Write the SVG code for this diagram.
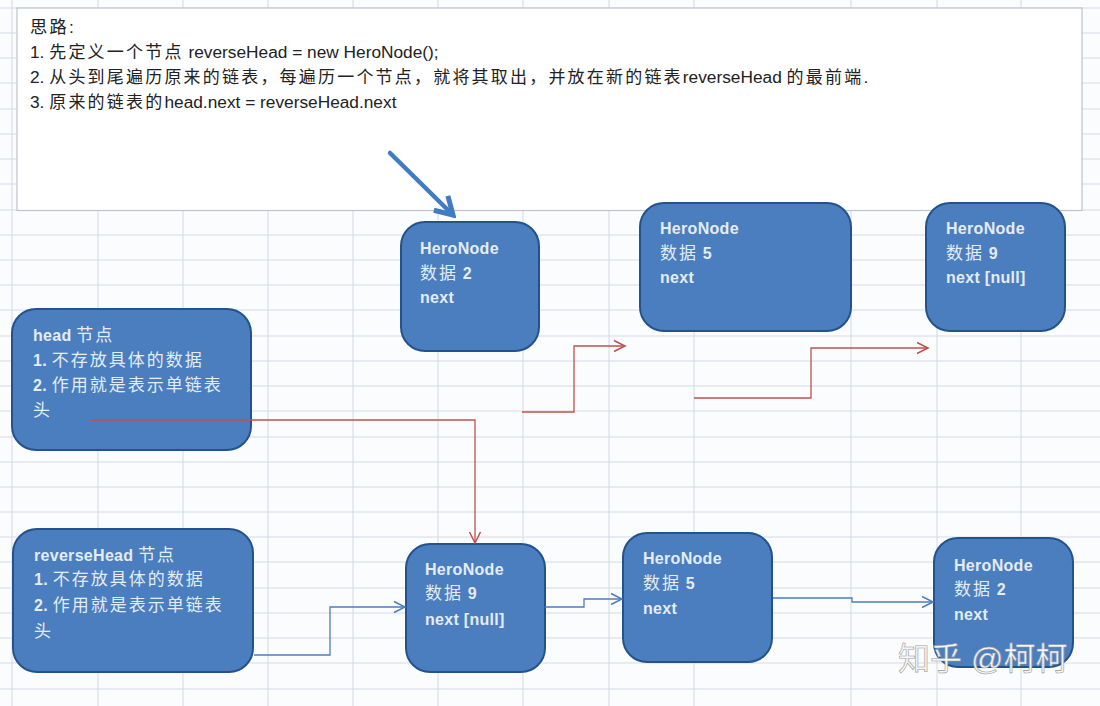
<svg xmlns="http://www.w3.org/2000/svg" width="1100" height="706" viewBox="0 0 1100 706">
<style>
text{font-family:"Liberation Sans","Noto Sans CJK SC",sans-serif}
.grid line{stroke:#d6dce6;stroke-width:1.1}
.node rect{fill:#4a7ebf;stroke:#24528a;stroke-width:2}
.node text{fill:#e4ecf6;font-size:16px;font-weight:bold;letter-spacing:.3px}
.c{font-weight:normal;font-size:17px;letter-spacing:2px}
.note text{fill:#222;font-size:17.300px}
.n{letter-spacing:2.2px;font-size:17px}
.red{fill:none;stroke:#c0504d;stroke-width:1.3}
.blue{fill:none;stroke:#4a7ebf;stroke-width:1.3}
.mark{fill:#f6f6f6;stroke:#9a9a9a;stroke-width:.6;font-size:32px}
</style>
<defs>
<marker id="ar" markerUnits="userSpaceOnUse" markerWidth="14" markerHeight="14" refX="12" refY="7" orient="auto"><path d="M1,1.5 L12,7 L1,12.5" fill="none" stroke="#c0504d" stroke-width="1.5"/></marker>
<marker id="ab" markerUnits="userSpaceOnUse" markerWidth="14" markerHeight="14" refX="12" refY="7" orient="auto"><path d="M1,1.5 L12,7 L1,12.5" fill="none" stroke="#4a7ebf" stroke-width="1.5"/></marker>
<marker id="abig" markerUnits="userSpaceOnUse" markerWidth="28" markerHeight="28" refX="24" refY="14" orient="auto"><path d="M7,4 L24,14 L7,24" fill="none" stroke="#3f7cc4" stroke-width="5"/></marker>
</defs>
<rect width="1100" height="706" fill="#fbfcfe"/>
<g class="grid" id="grid">
<line x1="12" y1="0" x2="12" y2="706"/><line x1="98" y1="0" x2="98" y2="706"/><line x1="183" y1="0" x2="183" y2="706"/><line x1="268" y1="0" x2="268" y2="706"/><line x1="353" y1="0" x2="353" y2="706"/><line x1="438" y1="0" x2="438" y2="706"/><line x1="523" y1="0" x2="523" y2="706"/><line x1="609" y1="0" x2="609" y2="706"/><line x1="694" y1="0" x2="694" y2="706"/><line x1="851" y1="0" x2="851" y2="706"/><line x1="937" y1="0" x2="937" y2="706"/><line x1="1021" y1="0" x2="1021" y2="706"/>
<line x1="0" y1="8" x2="1100" y2="8"/><line x1="0" y1="33" x2="1100" y2="33"/><line x1="0" y1="58" x2="1100" y2="58"/><line x1="0" y1="83" x2="1100" y2="83"/><line x1="0" y1="109" x2="1100" y2="109"/><line x1="0" y1="134" x2="1100" y2="134"/><line x1="0" y1="159" x2="1100" y2="159"/><line x1="0" y1="184" x2="1100" y2="184"/><line x1="0" y1="210" x2="1100" y2="210"/><line x1="0" y1="235" x2="1100" y2="235"/><line x1="0" y1="260" x2="1100" y2="260"/><line x1="0" y1="285" x2="1100" y2="285"/><line x1="0" y1="310" x2="1100" y2="310"/><line x1="0" y1="336" x2="1100" y2="336"/><line x1="0" y1="361" x2="1100" y2="361"/><line x1="0" y1="386" x2="1100" y2="386"/><line x1="0" y1="411" x2="1100" y2="411"/><line x1="0" y1="437" x2="1100" y2="437"/><line x1="0" y1="462" x2="1100" y2="462"/><line x1="0" y1="487" x2="1100" y2="487"/><line x1="0" y1="512" x2="1100" y2="512"/><line x1="0" y1="537" x2="1100" y2="537"/><line x1="0" y1="562" x2="1100" y2="562"/><line x1="0" y1="588" x2="1100" y2="588"/><line x1="0" y1="613" x2="1100" y2="613"/><line x1="0" y1="638" x2="1100" y2="638"/><line x1="0" y1="663" x2="1100" y2="663"/><line x1="0" y1="689" x2="1100" y2="689"/>
</g>
<g id="note" class="note">
<rect x="17" y="8" width="1065" height="202.500" fill="#fff" stroke="#bcc3cb" stroke-width="1.2"/>
<text x="30" y="33" class="n">思路:</text>
<text x="30" y="58">1. <tspan class="n">先定义一个节点</tspan> reverseHead = new HeroNode();</text>
<text x="30" y="83">2. <tspan class="n">从头到尾遍历原来的链表，每遍历一个节点，就将其取出，并放在新的链表</tspan>reverseHead <tspan class="n">的最前端</tspan>.</text>
<text x="30" y="108">3. <tspan class="n">原来的链表的</tspan>head.next = reverseHead.next</text>
</g>
<g id="node-head" class="node">
<rect x="12" y="309" width="239" height="141" rx="24"/>
<text x="33" y="341">head <tspan class="c">节点</tspan></text>
<text x="33" y="366">1. <tspan class="c">不存放具体的数据</tspan></text>
<text x="33" y="391">2. <tspan class="c">作用就是表示单链表</tspan></text>
<text x="33" y="416"><tspan class="c">头</tspan></text>
</g>
<g id="node-reversehead" class="node">
<rect x="13" y="529" width="240" height="143" rx="24"/>
<text x="34" y="561">reverseHead <tspan class="c">节点</tspan></text>
<text x="34" y="585">1. <tspan class="c">不存放具体的数据</tspan></text>
<text x="34" y="611">2. <tspan class="c">作用就是表示单链表</tspan></text>
<text x="34" y="637"><tspan class="c">头</tspan></text>
</g>
<g id="node-top-2" class="node">
<rect x="401" y="222" width="138" height="129" rx="24"/>
<text x="420" y="254">HeroNode</text><text x="420" y="279"><tspan class="c">数据</tspan> 2</text><text x="420" y="303">next</text>
</g>
<g id="node-top-5" class="node">
<rect x="640" y="203" width="211" height="128" rx="24"/>
<text x="660" y="234">HeroNode</text><text x="660" y="259"><tspan class="c">数据</tspan> 5</text><text x="660" y="283">next</text>
</g>
<g id="node-top-9" class="node">
<rect x="926" y="203" width="139" height="128" rx="24"/>
<text x="946" y="234">HeroNode</text><text x="946" y="259"><tspan class="c">数据</tspan> 9</text><text x="946" y="283">next [null]</text>
</g>
<g id="node-bottom-9" class="node">
<rect x="406" y="544" width="139" height="128" rx="24"/>
<text x="425" y="575">HeroNode</text><text x="425" y="599"><tspan class="c">数据</tspan> 9</text><text x="425" y="625">next [null]</text>
</g>
<g id="node-bottom-5" class="node">
<rect x="623" y="533" width="149" height="129" rx="24"/>
<text x="643" y="564">HeroNode</text><text x="643" y="589"><tspan class="c">数据</tspan> 5</text><text x="643" y="614">next</text>
</g>
<g id="node-bottom-2" class="node">
<rect x="934" y="538" width="139" height="129" rx="24"/>
<text x="954" y="571">HeroNode</text><text x="954" y="595"><tspan class="c">数据</tspan> 2</text><text x="954" y="620">next</text>
</g>
<g id="connectors">
<path class="red" d="M90,420 H475 V543" marker-end="url(#ar)"/>
<path class="red" d="M522,412 H574 V346 H625" marker-end="url(#ar)"/>
<path class="red" d="M694,398 H811 V348 H928" marker-end="url(#ar)"/>
<path class="blue" d="M254,655 H330 V607 H405" marker-end="url(#ab)"/>
<path class="blue" d="M545,607 H584 V599 H622" marker-end="url(#ab)"/>
<path class="blue" d="M773,598 H852 V602 H933" marker-end="url(#ab)"/>
<path d="M390,153 L453,215" fill="none" stroke="#3f7cc4" stroke-width="4.500" stroke-linecap="round" marker-end="url(#abig)"/>
</g>
<text class="mark" x="898" y="670">知乎 @柯柯</text>
</svg>
